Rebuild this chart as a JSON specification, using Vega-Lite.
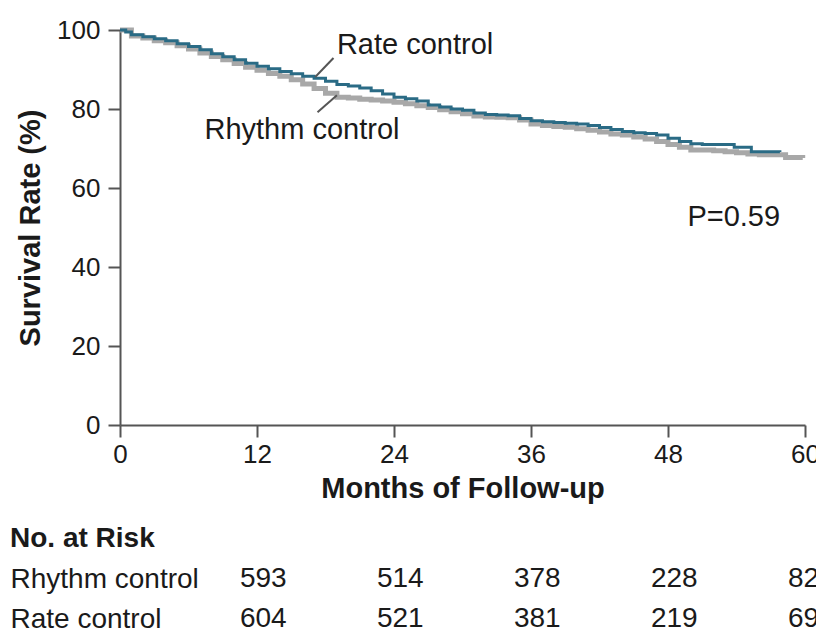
{
  "$schema": "https://vega.github.io/schema/vega-lite/v6.json",
  "padding": {"left": 10, "top": 17, "right": -4, "bottom": 0},
  "spacing": 22,
  "datasets": {
    "curves": [
      {"group": "Rate control", "month": 0, "pct": 100},
      {"group": "Rate control", "month": 0.5, "pct": 99.5},
      {"group": "Rate control", "month": 1, "pct": 98.8},
      {"group": "Rate control", "month": 2, "pct": 98.3},
      {"group": "Rate control", "month": 3, "pct": 97.8},
      {"group": "Rate control", "month": 4, "pct": 97.3},
      {"group": "Rate control", "month": 5, "pct": 96.5},
      {"group": "Rate control", "month": 6, "pct": 95.8},
      {"group": "Rate control", "month": 7, "pct": 95.0},
      {"group": "Rate control", "month": 8, "pct": 94.0},
      {"group": "Rate control", "month": 9, "pct": 93.2},
      {"group": "Rate control", "month": 10, "pct": 92.5},
      {"group": "Rate control", "month": 11, "pct": 91.6},
      {"group": "Rate control", "month": 12, "pct": 90.8},
      {"group": "Rate control", "month": 13, "pct": 90.2},
      {"group": "Rate control", "month": 14, "pct": 89.5},
      {"group": "Rate control", "month": 15, "pct": 88.9},
      {"group": "Rate control", "month": 16, "pct": 88.3},
      {"group": "Rate control", "month": 17, "pct": 87.8},
      {"group": "Rate control", "month": 18, "pct": 87.0},
      {"group": "Rate control", "month": 19, "pct": 86.2},
      {"group": "Rate control", "month": 20, "pct": 85.8},
      {"group": "Rate control", "month": 21, "pct": 85.3},
      {"group": "Rate control", "month": 22, "pct": 84.6},
      {"group": "Rate control", "month": 23, "pct": 83.8},
      {"group": "Rate control", "month": 24, "pct": 83.0},
      {"group": "Rate control", "month": 25, "pct": 82.6},
      {"group": "Rate control", "month": 26, "pct": 82.0},
      {"group": "Rate control", "month": 27, "pct": 81.0},
      {"group": "Rate control", "month": 28, "pct": 80.5},
      {"group": "Rate control", "month": 29, "pct": 80.0},
      {"group": "Rate control", "month": 30, "pct": 79.7},
      {"group": "Rate control", "month": 31, "pct": 79.0},
      {"group": "Rate control", "month": 32, "pct": 78.6},
      {"group": "Rate control", "month": 33, "pct": 78.5},
      {"group": "Rate control", "month": 34, "pct": 78.3},
      {"group": "Rate control", "month": 35, "pct": 77.6},
      {"group": "Rate control", "month": 36, "pct": 77.0},
      {"group": "Rate control", "month": 37, "pct": 76.8},
      {"group": "Rate control", "month": 38, "pct": 76.6},
      {"group": "Rate control", "month": 39, "pct": 76.4},
      {"group": "Rate control", "month": 40, "pct": 76.2},
      {"group": "Rate control", "month": 41, "pct": 75.8},
      {"group": "Rate control", "month": 42, "pct": 75.3},
      {"group": "Rate control", "month": 43, "pct": 74.8},
      {"group": "Rate control", "month": 44, "pct": 74.3},
      {"group": "Rate control", "month": 45, "pct": 74.0},
      {"group": "Rate control", "month": 46, "pct": 73.8},
      {"group": "Rate control", "month": 47, "pct": 73.4},
      {"group": "Rate control", "month": 48, "pct": 72.6},
      {"group": "Rate control", "month": 49, "pct": 71.8},
      {"group": "Rate control", "month": 50, "pct": 71.2},
      {"group": "Rate control", "month": 51, "pct": 71.0},
      {"group": "Rate control", "month": 53.8, "pct": 70.3},
      {"group": "Rate control", "month": 55.3, "pct": 69.2},
      {"group": "Rate control", "month": 57.8, "pct": 69.1},
      {"group": "Rhythm control", "month": 0, "pct": 100},
      {"group": "Rhythm control", "month": 1, "pct": 98.5},
      {"group": "Rhythm control", "month": 2, "pct": 98.0},
      {"group": "Rhythm control", "month": 3, "pct": 97.3},
      {"group": "Rhythm control", "month": 4, "pct": 96.8},
      {"group": "Rhythm control", "month": 5, "pct": 96.0},
      {"group": "Rhythm control", "month": 6, "pct": 95.2},
      {"group": "Rhythm control", "month": 7, "pct": 94.2},
      {"group": "Rhythm control", "month": 8, "pct": 93.3},
      {"group": "Rhythm control", "month": 9, "pct": 92.5},
      {"group": "Rhythm control", "month": 10, "pct": 91.5},
      {"group": "Rhythm control", "month": 11, "pct": 90.6},
      {"group": "Rhythm control", "month": 12, "pct": 89.8},
      {"group": "Rhythm control", "month": 13, "pct": 89.0},
      {"group": "Rhythm control", "month": 14, "pct": 88.3},
      {"group": "Rhythm control", "month": 15, "pct": 87.4},
      {"group": "Rhythm control", "month": 16, "pct": 86.3},
      {"group": "Rhythm control", "month": 17, "pct": 85.2},
      {"group": "Rhythm control", "month": 18, "pct": 84.0},
      {"group": "Rhythm control", "month": 19, "pct": 83.0},
      {"group": "Rhythm control", "month": 20, "pct": 82.8},
      {"group": "Rhythm control", "month": 21, "pct": 82.5},
      {"group": "Rhythm control", "month": 22, "pct": 82.3},
      {"group": "Rhythm control", "month": 23, "pct": 82.0},
      {"group": "Rhythm control", "month": 24, "pct": 81.7},
      {"group": "Rhythm control", "month": 25, "pct": 81.3},
      {"group": "Rhythm control", "month": 26, "pct": 80.8},
      {"group": "Rhythm control", "month": 27, "pct": 80.4},
      {"group": "Rhythm control", "month": 28, "pct": 79.8},
      {"group": "Rhythm control", "month": 29, "pct": 79.3},
      {"group": "Rhythm control", "month": 30, "pct": 78.8},
      {"group": "Rhythm control", "month": 31, "pct": 78.2},
      {"group": "Rhythm control", "month": 32, "pct": 78.0},
      {"group": "Rhythm control", "month": 33, "pct": 77.9},
      {"group": "Rhythm control", "month": 34, "pct": 77.8},
      {"group": "Rhythm control", "month": 35, "pct": 77.2},
      {"group": "Rhythm control", "month": 36, "pct": 76.2},
      {"group": "Rhythm control", "month": 37, "pct": 75.8},
      {"group": "Rhythm control", "month": 38, "pct": 75.6},
      {"group": "Rhythm control", "month": 39, "pct": 75.4},
      {"group": "Rhythm control", "month": 40, "pct": 75.0},
      {"group": "Rhythm control", "month": 41, "pct": 74.6},
      {"group": "Rhythm control", "month": 42, "pct": 74.2},
      {"group": "Rhythm control", "month": 43, "pct": 73.7},
      {"group": "Rhythm control", "month": 44, "pct": 73.4},
      {"group": "Rhythm control", "month": 45, "pct": 72.9},
      {"group": "Rhythm control", "month": 46, "pct": 72.4},
      {"group": "Rhythm control", "month": 47, "pct": 71.8},
      {"group": "Rhythm control", "month": 48, "pct": 71.0},
      {"group": "Rhythm control", "month": 49, "pct": 70.3},
      {"group": "Rhythm control", "month": 50, "pct": 69.6},
      {"group": "Rhythm control", "month": 52, "pct": 69.4},
      {"group": "Rhythm control", "month": 53, "pct": 69.2},
      {"group": "Rhythm control", "month": 54, "pct": 68.9},
      {"group": "Rhythm control", "month": 55, "pct": 68.6},
      {"group": "Rhythm control", "month": 56, "pct": 68.4},
      {"group": "Rhythm control", "month": 58.3, "pct": 67.7},
      {"group": "Rhythm control", "month": 59.8, "pct": 67.6}
    ],
    "labels": [
      {"text": "Rate control", "month": 19.0, "pct": 96.2},
      {"text": "Rhythm control", "month": 7.4, "pct": 74.7},
      {"text": "P=0.59", "month": 49.7, "pct": 52.7}
    ],
    "leaders": [
      {"month": 17.1, "pct": 88.1, "month2": 18.7, "pct2": 92.9},
      {"month": 17.3, "pct": 79.2, "month2": 19.0, "pct2": 83.5}
    ],
    "risk": [
      {"group": "Rhythm control", "month": 0, "n": 593},
      {"group": "Rhythm control", "month": 12, "n": 514},
      {"group": "Rhythm control", "month": 24, "n": 378},
      {"group": "Rhythm control", "month": 36, "n": 228},
      {"group": "Rhythm control", "month": 48, "n": 82},
      {"group": "Rate control", "month": 0, "n": 604},
      {"group": "Rate control", "month": 12, "n": 521},
      {"group": "Rate control", "month": 24, "n": 381},
      {"group": "Rate control", "month": 36, "n": 219},
      {"group": "Rate control", "month": 48, "n": 69}
    ]
  },
  "vconcat": [
    {
      "width": 685,
      "height": 395,
      "encoding": {
        "x": {
          "field": "month",
          "type": "quantitative",
          "scale": {"domain": [0, 60], "nice": false},
          "axis": {
            "values": [0, 12, 24, 36, 48, 60],
            "title": "Months of Follow-up",
            "labelFlush": false,
            "titlePadding": 7
          }
        },
        "y": {
          "field": "pct",
          "type": "quantitative",
          "scale": {"domain": [0, 100], "nice": false},
          "axis": {
            "values": [0, 20, 40, 60, 80, 100],
            "title": "Survival Rate (%)",
            "labelPadding": 8,
            "titlePadding": 11
          }
        }
      },
      "layer": [
        {
          "data": {"name": "curves"},
          "transform": [{"filter": "datum.group === 'Rhythm control'"}],
          "mark": {"type": "line", "interpolate": "step-after", "color": "#a8a8a8", "strokeWidth": 5}
        },
        {
          "data": {"name": "curves"},
          "transform": [{"filter": "datum.group === 'Rate control'"}],
          "mark": {"type": "line", "interpolate": "step-after", "color": "#2a6b85", "strokeWidth": 3}
        },
        {
          "data": {"name": "leaders"},
          "mark": {"type": "rule", "color": "#555555", "strokeWidth": 2},
          "encoding": {
            "x2": {"field": "month2"},
            "y2": {"field": "pct2"}
          }
        },
        {
          "data": {"name": "labels"},
          "mark": {"type": "text", "align": "left", "baseline": "middle", "fontSize": 29, "font": "Liberation Sans", "color": "#1a1a1a"},
          "encoding": {"text": {"field": "text"}}
        }
      ]
    },
    {
      "width": 685,
      "height": 80,
      "title": {
        "text": "No. at Risk",
        "anchor": "start",
        "offset": 6,
        "fontSize": 28,
        "fontWeight": "bold",
        "font": "Liberation Sans",
        "color": "#1a1a1a"
      },
      "data": {"name": "risk"},
      "mark": {"type": "text", "align": "left", "baseline": "middle", "fontSize": 28, "font": "Liberation Sans", "color": "#1a1a1a"},
      "encoding": {
        "x": {
          "field": "month",
          "type": "quantitative",
          "scale": {"domain": [-10.5, 49.5], "nice": false, "zero": false},
          "axis": null
        },
        "y": {
          "field": "group",
          "type": "nominal",
          "sort": ["Rhythm control", "Rate control"],
          "scale": {"type": "point", "padding": 0.5},
          "axis": {
            "title": null,
            "domain": false,
            "ticks": false,
            "labelAlign": "left",
            "labelPadding": 110,
            "labelLimit": 400,
            "labelFontSize": 28,
            "labelFont": "Liberation Sans",
            "labelColor": "#1a1a1a"
          }
        },
        "text": {"field": "n", "type": "quantitative"}
      }
    }
  ],
  "resolve": {"scale": {"x": "independent", "y": "independent"}},
  "config": {
    "view": {"stroke": null},
    "axis": {
      "grid": false,
      "domainColor": "#555555",
      "domainWidth": 2,
      "tickColor": "#555555",
      "tickWidth": 2,
      "tickSize": 12,
      "labelFont": "Liberation Sans",
      "labelFontSize": 26,
      "labelColor": "#1a1a1a",
      "labelPadding": 4,
      "titleFont": "Liberation Sans",
      "titleFontSize": 29,
      "titleFontWeight": "bold",
      "titleColor": "#1a1a1a"
    }
  }
}
